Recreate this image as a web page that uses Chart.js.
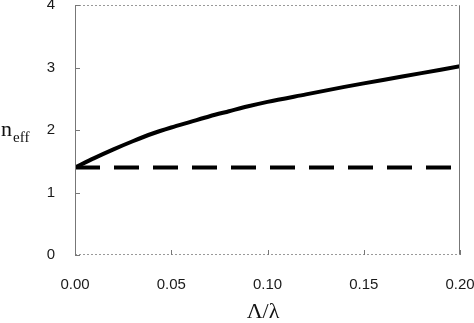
<!DOCTYPE html>
<html>
<head>
<meta charset="utf-8">
<script src="https://cdn.jsdelivr.net/npm/chart.js@4/dist/chart.umd.min.js"></script>
<style>
  html, body { margin: 0; padding: 0; background: #fff; }
  #wrap { width: 474px; height: 323px; position: relative; }
</style>
</head>
<body>
<div id="wrap"><canvas id="c"></canvas></div>
<script>
// ratio of period to wavelength
const ratios = [0, 0.01, 0.02, 0.03, 0.04, 0.05, 0.06, 0.07, 0.08, 0.09, 0.10, 0.12, 0.14, 0.16, 0.18, 0.20];
const nEff = [1.40, 1.55, 1.69, 1.82, 1.94, 2.04, 2.13, 2.22, 2.30, 2.38, 2.45, 2.57, 2.69, 2.80, 2.91, 3.02];
const baseRatios = [0, 0.20];
const baseIndex = [1.40, 1.40];
const xTicks = [0, 0.05, 0.10, 0.15, 0.20];
const yTicks = [0, 1, 2, 3, 4];

const frame = {
  id: 'frame',
  afterDraw(chart) {
    const { ctx, chartArea: a, scales } = chart;
    ctx.save();
    ctx.lineWidth = 1;
    ctx.strokeStyle = '#777';
    ctx.beginPath();
    ctx.moveTo(a.left + 0.5, a.top); ctx.lineTo(a.left + 0.5, a.bottom);
    ctx.moveTo(a.right - 0.5, a.top); ctx.lineTo(a.right - 0.5, a.bottom);
    ctx.stroke();
    ctx.setLineDash([2, 2]);
    ctx.strokeStyle = '#999';
    ctx.beginPath();
    ctx.moveTo(a.left, a.top + 0.5); ctx.lineTo(a.right, a.top + 0.5);
    ctx.moveTo(a.left, a.bottom - 0.5); ctx.lineTo(a.right, a.bottom - 0.5);
    ctx.stroke();
    ctx.setLineDash([]);
    // inward ticks
    ctx.strokeStyle = '#777';
    ctx.beginPath();
    yTicks.forEach(v => {
      const y = Math.round(scales.y.getPixelForValue(v)) + 0.5;
      ctx.moveTo(a.left, y); ctx.lineTo(a.left + 5, y);
    });
    xTicks.forEach(v => {
      const x = Math.round(scales.x.getPixelForValue(v)) + 0.5;
      ctx.moveTo(x, a.bottom); ctx.lineTo(x, a.bottom - 5);
    });
    ctx.stroke();
    // axis titles
    ctx.fillStyle = '#111';
    ctx.textBaseline = 'alphabetic';
    ctx.font = '22px "Liberation Serif"';
    ctx.textAlign = 'left';
    ctx.fillText('n', 1, 136);
    ctx.font = '15px "Liberation Serif"';
    ctx.fillText('eff', 13, 142);
    ctx.font = '22px "Liberation Serif"';
    ctx.textAlign = 'center';
    ctx.fillText('Λ/λ', 263, 318);
    ctx.restore();
  }
};

new Chart(document.getElementById('c').getContext('2d'), {
  type: 'line',
  data: {
    datasets: [
      { data: ratios.map((r, i) => ({ x: r, y: nEff[i] })), borderColor: '#000', borderWidth: 4, pointRadius: 0, tension: 0.3, fill: false },
      { data: baseRatios.map((r, i) => ({ x: r, y: baseIndex[i] })), borderColor: '#000', borderWidth: 4, borderDash: [25, 14], pointRadius: 0, fill: false }
    ]
  },
  options: {
    responsive: true, maintainAspectRatio: false, animation: false,
    layout: { padding: { left: 0, right: 14, top: 5, bottom: 0 } },
    plugins: { legend: { display: false }, tooltip: { enabled: false } },
    scales: {
      x: {
        type: 'linear', min: 0, max: 0.2,
        border: { display: false },
        grid: { display: false, drawTicks: false },
        afterBuildTicks: s => { s.ticks = xTicks.map(v => ({ value: v })); },
        afterFit: s => { s.height = 68; s.paddingLeft = 0; s.paddingRight = 0; },
        ticks: { padding: 21, color: '#1a1a1a', font: { family: '"Liberation Sans"', size: 15 }, maxRotation: 0, callback: v => v.toFixed(2) }
      },
      y: {
        min: 0, max: 4,
        border: { display: false },
        grid: { display: false, drawTicks: false },
        afterBuildTicks: s => { s.ticks = yTicks.map(v => ({ value: v })); },
        afterFit: s => { s.width = 75; s.paddingTop = 0; s.paddingBottom = 0; },
        ticks: { padding: 20, color: '#1a1a1a', font: { family: '"Liberation Sans"', size: 15 }, callback: v => String(v) }
      }
    }
  },
  plugins: [frame]
});
</script>
</body>
</html>
